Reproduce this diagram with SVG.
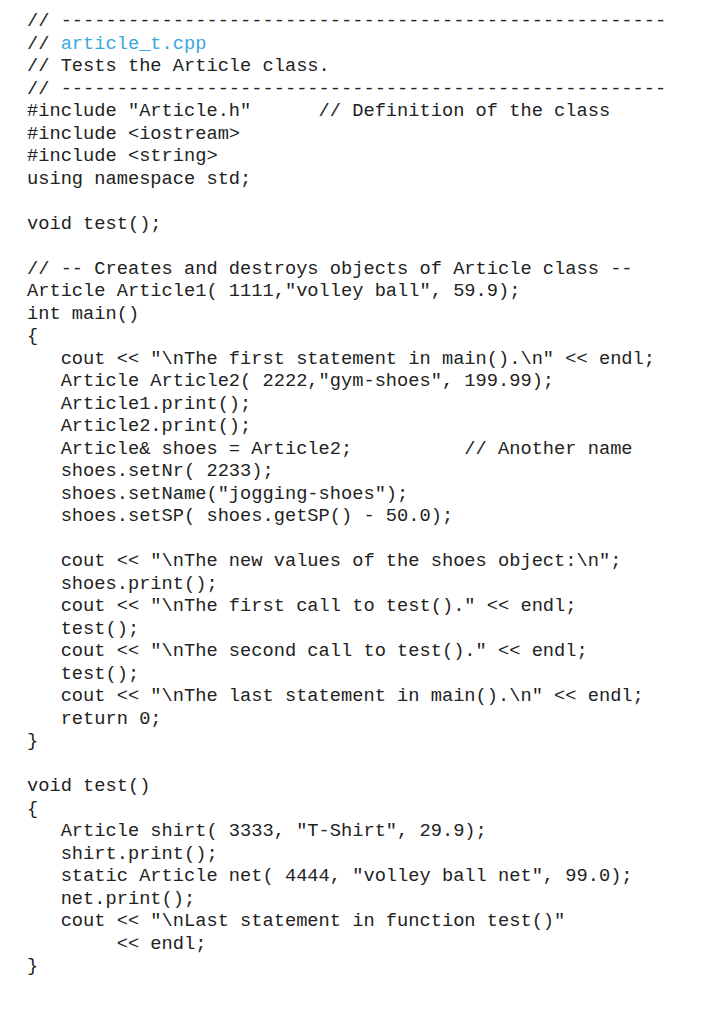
<svg xmlns="http://www.w3.org/2000/svg" width="723" height="1023" viewBox="0 0 723 1023">
<style>
text{font-family:"Liberation Mono","DejaVu Sans Mono",monospace;font-size:18.7px;fill:#222;white-space:pre}
.b{fill:#3aa8dc}
</style>
<rect width="723" height="1023" fill="#fff"/>
<g id="code" xml:space="preserve">
<text x="27" y="26">// ------------------------------------------------------</text>
<text x="27" y="48.5">// <tspan class="b">article_t.cpp</tspan></text>
<text x="27" y="71">// Tests the Article class.</text>
<text x="27" y="93.5">// ------------------------------------------------------</text>
<text x="27" y="116">#include "Article.h"      // Definition of the class</text>
<text x="27" y="138.5">#include &lt;iostream&gt;</text>
<text x="27" y="161">#include &lt;string&gt;</text>
<text x="27" y="183.5">using namespace std;</text>
<text x="27" y="228.5">void test();</text>
<text x="27" y="273.5">// -- Creates and destroys objects of Article class --</text>
<text x="27" y="296">Article Article1( 1111,"volley ball", 59.9);</text>
<text x="27" y="318.5">int main()</text>
<text x="27" y="341">{</text>
<text x="27" y="363.5">   cout &lt;&lt; "\nThe first statement in main().\n" &lt;&lt; endl;</text>
<text x="27" y="386">   Article Article2( 2222,"gym-shoes", 199.99);</text>
<text x="27" y="408.5">   Article1.print();</text>
<text x="27" y="431">   Article2.print();</text>
<text x="27" y="453.5">   Article&amp; shoes = Article2;          // Another name</text>
<text x="27" y="476">   shoes.setNr( 2233);</text>
<text x="27" y="498.5">   shoes.setName("jogging-shoes");</text>
<text x="27" y="521">   shoes.setSP( shoes.getSP() - 50.0);</text>
<text x="27" y="566">   cout &lt;&lt; "\nThe new values of the shoes object:\n";</text>
<text x="27" y="588.5">   shoes.print();</text>
<text x="27" y="611">   cout &lt;&lt; "\nThe first call to test()." &lt;&lt; endl;</text>
<text x="27" y="633.5">   test();</text>
<text x="27" y="656">   cout &lt;&lt; "\nThe second call to test()." &lt;&lt; endl;</text>
<text x="27" y="678.5">   test();</text>
<text x="27" y="701">   cout &lt;&lt; "\nThe last statement in main().\n" &lt;&lt; endl;</text>
<text x="27" y="723.5">   return 0;</text>
<text x="27" y="746">}</text>
<text x="27" y="791">void test()</text>
<text x="27" y="813.5">{</text>
<text x="27" y="836">   Article shirt( 3333, "T-Shirt", 29.9);</text>
<text x="27" y="858.5">   shirt.print();</text>
<text x="27" y="881">   static Article net( 4444, "volley ball net", 99.0);</text>
<text x="27" y="903.5">   net.print();</text>
<text x="27" y="926">   cout &lt;&lt; "\nLast statement in function test()"</text>
<text x="27" y="948.5">        &lt;&lt; endl;</text>
<text x="27" y="971">}</text>
</g>
</svg>
